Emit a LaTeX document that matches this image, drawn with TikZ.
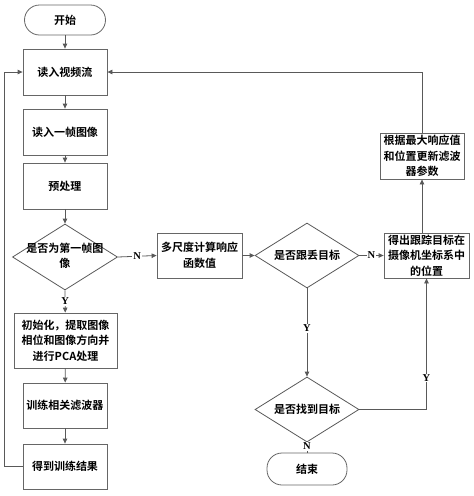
\documentclass[tikz,border=0pt]{standalone}
\usepackage{fontspec}
\setmainfont{Noto Sans CJK SC}[BoldFont={Noto Sans CJK SC Bold}]
\newfontfamily\latinserif{Liberation Serif}
\usetikzlibrary{arrows.meta,shapes.geometric}
\begin{document}
\begin{tikzpicture}[x=1pt,y=-1pt,
  line width=0.8pt,
  every node/.style={font=\bfseries\fontsize{11}{15.5}\selectfont},
  box/.style={draw=black!60, line width=0.8pt, fill=white, align=center, inner sep=0pt},
  term/.style={box, rounded corners=15pt},
  dia/.style={draw=black!65, line width=0.8pt, diamond, inner sep=0pt},
  conn/.style={draw=black!65, -{Triangle[length=5pt,width=4.5pt]}},
  plain/.style={draw=black!65},
  yn/.style={fill=white, inner sep=1pt, font=\latinserif\bfseries\fontsize{10.5}{12}\selectfont}]
\useasboundingbox (0,0) rectangle (474,496);
% left column
\node[term, minimum width=81pt, minimum height=30pt] (start) at (65,20) {开始};
\node[box, minimum width=84pt, minimum height=46pt] (read) at (65,72) {读入视频流};
\node[box, minimum width=84pt, minimum height=46pt] (frame) at (65,132) {读入一帧图像};
\node[box, minimum width=84pt, minimum height=46pt] (pre) at (65,186) {预处理};
\node[dia, minimum width=105pt, minimum height=66pt] (d1) at (65,257) {};
\node[align=center, inner sep=0pt] (d1t) at (65,256) {是否为第一帧图\\像};
\node[box, minimum width=103pt, minimum height=55pt] (init) at (65.5,340.5) {初始化，提取图像\\相位和图像方向并\\进行PCA处理};
\node[box, minimum width=84pt, minimum height=45pt] (train) at (65,405.5) {训练相关滤波器};
\node[box, minimum width=84pt, minimum height=45pt] (result) at (65,466.5) {得到训练结果};
% middle
\node[box, minimum width=85pt, minimum height=45pt] (multi) at (199.5,255.5) {多尺度计算响应\\函数值};
\node[dia, minimum width=104pt, minimum height=65pt] (d2) at (307,255.5) {};
\node (d2t) at (307,255) {是否跟丢目标};
\node[dia, minimum width=104pt, minimum height=65pt] (d3) at (307,409.5) {};
\node (d3t) at (307,409) {是否找到目标};
\node[term, minimum width=80pt, minimum height=32pt] (end) at (307,469) {结束};
% right
\node[box, minimum width=85pt, minimum height=45pt] (pos) at (426.5,255.5) {得出跟踪目标在\\摄像机坐标系中\\的位置};
\node[box, minimum width=84pt, minimum height=46pt] (upd) at (422,156) {根据最大响应值\\和位置更新滤波\\器参数};
% connectors
\draw[conn] (start) -- (read);
\draw[conn] (read) -- (frame);
\draw[conn] (frame) -- (pre);
\draw[conn] (pre) -- (d1.north);
\draw[conn] (d1.south) -- node[yn]{Y} (init);
\draw[conn] (init) -- (train);
\draw[conn] (train) -- (result);
\draw[conn] (result.west) -- (4,466.5) -- (4,72) -- (read.west);
\draw[conn] (d1.east) -- node[yn]{N} (multi.west);
\draw[conn] (multi.east) -- (d2.west);
\draw[conn] (d2.east) -- node[yn]{N} (pos.west);
\draw[conn] (d2.south) -- node[yn, pos=0.45]{Y} (d3.north);
\draw[plain] (d3.south) -- node[yn, pos=0.4]{N} (end.north);
\draw[conn] (d3.east) -| node[yn, pos=0.62]{Y} (pos.south);
\draw[conn] (pos.north -| upd.south) -- (upd.south);
\draw[conn] (upd.north) |- (read.east);
\end{tikzpicture}
\end{document}
